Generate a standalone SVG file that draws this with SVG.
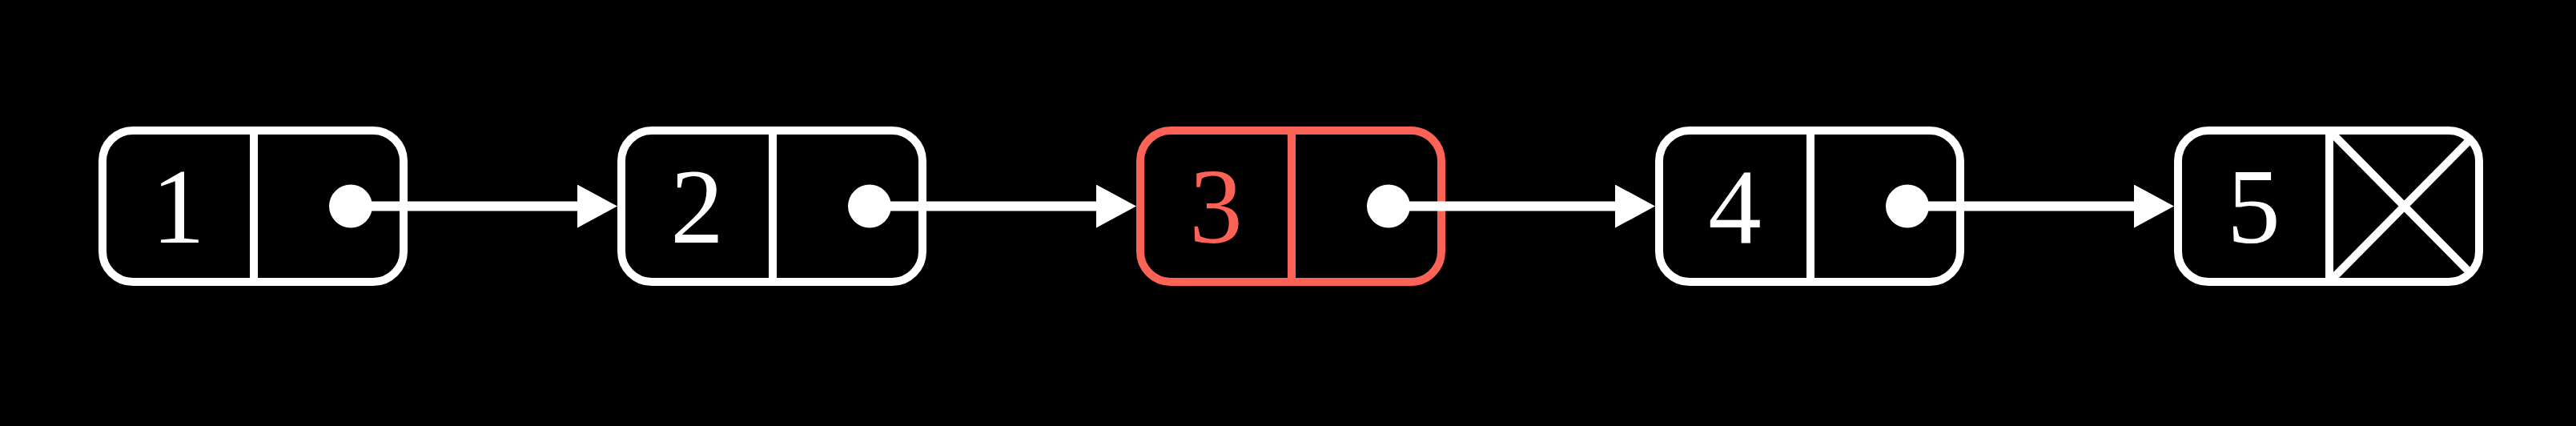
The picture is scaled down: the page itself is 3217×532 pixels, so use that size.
<svg xmlns="http://www.w3.org/2000/svg" width="3217" height="532" viewBox="0 0 3217 532">
<style>
.box{fill:none;stroke:#ffffff;stroke-width:10}
.red .box{stroke:#FC6255}
.div{stroke:#ffffff;stroke-width:10}
.red .div{stroke:#FC6255}
.lbl{font-family:"Liberation Serif","DejaVu Serif",serif;font-size:133px;fill:#ffffff;text-anchor:middle}
.red .lbl{fill:#FC6255}
.dot{fill:#ffffff}
.conn{stroke:#ffffff;stroke-width:12;fill:none}
.x{stroke:#ffffff;stroke-width:10}
</style>
<defs>
<marker id="ah" viewBox="0 0 50 54" refX="5" refY="27" markerWidth="50" markerHeight="54" markerUnits="userSpaceOnUse" orient="auto">
<path d="M0,0 L50,27 L0,54 z" fill="#ffffff"/>
</marker>
<clipPath id="c5"><rect x="2720" y="163" width="376" height="189" rx="38"/></clipPath>
</defs>
<rect width="3217" height="532" fill="#000000"/>
<g id="node1">
<rect class="box" x="128" y="163" width="376" height="189" rx="38"/>
<line class="div" x1="317" y1="163" x2="317" y2="352"/>
<text class="lbl" x="222.5" y="303">1</text>
<circle class="dot" cx="438" cy="257.5" r="27"/>
</g>
<g id="node2">
<rect class="box" x="776" y="163" width="376" height="189" rx="38"/>
<line class="div" x1="965" y1="163" x2="965" y2="352"/>
<text class="lbl" x="870.5" y="303">2</text>
<circle class="dot" cx="1086" cy="257.5" r="27"/>
</g>
<g id="node3" class="red">
<rect class="box" x="1424" y="163" width="376" height="189" rx="38"/>
<line class="div" x1="1613" y1="163" x2="1613" y2="352"/>
<text class="lbl" x="1518.5" y="303">3</text>
<circle class="dot" cx="1734" cy="257.5" r="27"/>
</g>
<g id="node4">
<rect class="box" x="2072" y="163" width="376" height="189" rx="38"/>
<line class="div" x1="2261" y1="163" x2="2261" y2="352"/>
<text class="lbl" x="2166.5" y="303">4</text>
<circle class="dot" cx="2382" cy="257.5" r="27"/>
</g>
<g id="node5">
<g clip-path="url(#c5)">
<line class="x" x1="2909" y1="163" x2="3096" y2="352"/>
<line class="x" x1="3096" y1="163" x2="2909" y2="352"/>
</g>
<rect class="box" x="2720" y="163" width="376" height="189" rx="38"/>
<line class="div" x1="2909" y1="163" x2="2909" y2="352"/>
<text class="lbl" x="2814.5" y="303">5</text>
</g>
<g id="connectors">
<line class="conn" x1="438" y1="257.5" x2="726" y2="257.5" marker-end="url(#ah)"/>
<line class="conn" x1="1086" y1="257.5" x2="1374" y2="257.5" marker-end="url(#ah)"/>
<line class="conn" x1="1734" y1="257.5" x2="2022" y2="257.5" marker-end="url(#ah)"/>
<line class="conn" x1="2382" y1="257.5" x2="2670" y2="257.5" marker-end="url(#ah)"/>
</g>
</svg>
